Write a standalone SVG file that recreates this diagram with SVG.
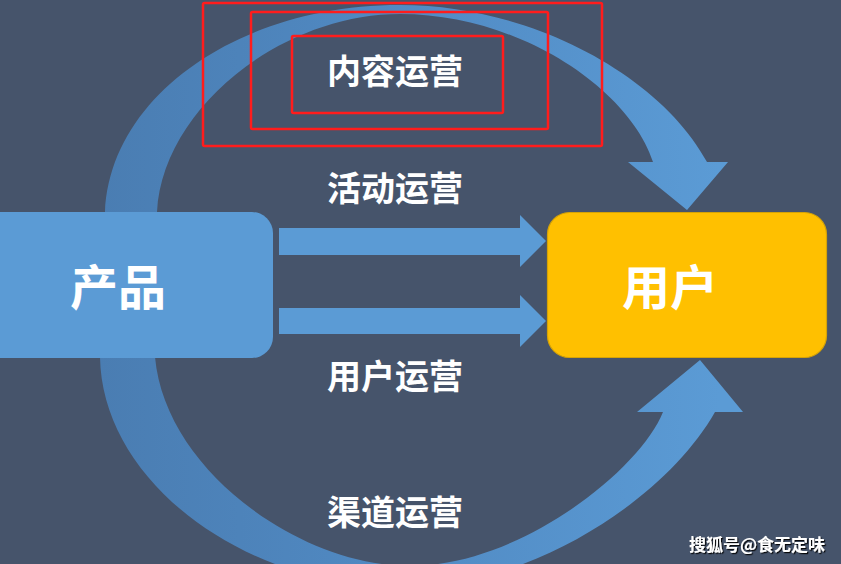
<svg xmlns="http://www.w3.org/2000/svg" width="841" height="564" viewBox="0 0 841 564">
<defs>
<linearGradient id="arcGrad" gradientUnits="userSpaceOnUse" x1="100" y1="0" x2="720" y2="0">
<stop offset="0" stop-color="#4a7db2"/>
<stop offset="0.45" stop-color="#5089c2"/>
<stop offset="1" stop-color="#5b9bd5"/>
</linearGradient>
<filter id="shadow" x="-10%" y="-30%" width="120%" height="160%">
<feDropShadow dx="1.2" dy="1.2" stdDeviation="0.4" flood-color="#000" flood-opacity="0.9"/>
</filter>
</defs>
<style>
.lbl{font-family:"Noto Sans CJK SC","Noto Sans",sans-serif;font-weight:bold;fill:#ffffff;text-anchor:middle;}
.arrow{fill:#5b9bd5;}
.arc{fill:url(#arcGrad);}
.red{fill:none;stroke:#ff1c1c;stroke-width:2.5;}
</style>
<rect x="0" y="0" width="841" height="564" fill="#46546b"/>
<g id="connectors">
<path class="arc" d="M105,212 C110,95 240,5 400,5 C530,5 660,75 707,162 L728,162 L687,210 L628,162 L653,162 C630,90 520,14 400,14 C280,14 162,110 157,212 Z"/>
<path class="arc" d="M100,357 C102,480 240,585 400,588 C530,588 665,500 715,412 L743,412 L700,360 L637,412 L663,412 C640,470 520,566 410,566 C300,566 165,470 155,357 Z"/>
<path class="arrow" d="M279,228 L520,228 L520,215 L546,241 L520,267 L520,255 L279,255 Z"/>
<path class="arrow" d="M279,308 L520,308 L520,295 L546,321 L520,347 L520,334 L279,334 Z"/>
</g>
<g id="product">
<rect x="-20" y="212" width="293" height="146" rx="21" fill="#5b9bd5"/>
<text class="lbl" x="118" y="305" font-size="48">产品</text>
</g>
<g id="user">
<rect x="547.5" y="212.5" width="279" height="145" rx="22" fill="#ffc000" stroke="#d6a306" stroke-width="1.2"/>
<text class="lbl" x="670" y="305" font-size="48">用户</text>
</g>
<g id="labels">
<text class="lbl" x="395" y="84" font-size="34">内容运营</text>
<text class="lbl" x="395" y="201" font-size="34">活动运营</text>
<text class="lbl" x="395" y="389" font-size="34">用户运营</text>
<text class="lbl" x="395" y="525" font-size="34">渠道运营</text>
</g>
<g id="highlights">
<rect class="red" x="203" y="3" width="399" height="143" rx="1.5"/>
<rect class="red" x="251" y="12" width="297" height="117" rx="1.5"/>
<rect class="red" x="292" y="36" width="211" height="77" rx="1.5"/>
</g>
<g id="watermark">
<text x="757" y="551" font-size="17" font-family="'Noto Sans CJK SC','Noto Sans',sans-serif" font-weight="bold" fill="#ffffff" text-anchor="middle" filter="url(#shadow)">搜狐号@食无定味</text>
</g>
</svg>
